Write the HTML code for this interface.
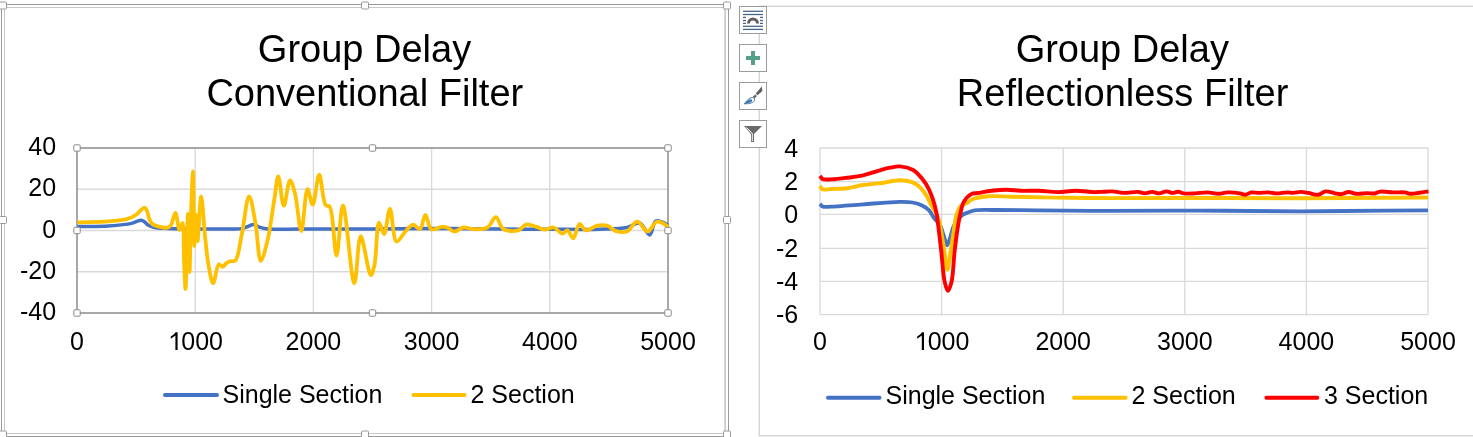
<!DOCTYPE html>
<html><head><meta charset="utf-8"><style>
html,body{margin:0;padding:0;background:#fff;width:1473px;height:437px;overflow:hidden}
svg{position:absolute;left:0;top:0;font-family:"Liberation Sans", sans-serif;will-change:transform}
</style></head><body>
<svg width="1473" height="437" viewBox="0 0 1473 437">
<rect x="1.5" y="4.5" width="727" height="432" fill="none" stroke="#9a9a9a" stroke-width="1"/>
<rect x="4.5" y="7.5" width="721" height="426" fill="none" stroke="#c8c8c8" stroke-width="1"/>
<line x1="724.6" y1="8" x2="724.6" y2="433" stroke="#d6d6d6" stroke-width="1"/>
<rect x="-0.50" y="2.00" width="7.00" height="7.00" rx="1" fill="#fff" stroke="#9a9a9a" stroke-width="1"/>
<rect x="361.50" y="2.00" width="7.00" height="7.00" rx="1" fill="#fff" stroke="#9a9a9a" stroke-width="1"/>
<rect x="723.50" y="2.00" width="7.00" height="7.00" rx="1" fill="#fff" stroke="#9a9a9a" stroke-width="1"/>
<rect x="-0.50" y="216.50" width="7.00" height="7.00" rx="1" fill="#fff" stroke="#9a9a9a" stroke-width="1"/>
<rect x="723.50" y="216.50" width="7.00" height="7.00" rx="1" fill="#fff" stroke="#9a9a9a" stroke-width="1"/>
<rect x="-0.50" y="431.00" width="7.00" height="7.00" rx="1" fill="#fff" stroke="#9a9a9a" stroke-width="1"/>
<rect x="361.50" y="431.00" width="7.00" height="7.00" rx="1" fill="#fff" stroke="#9a9a9a" stroke-width="1"/>
<rect x="723.50" y="431.00" width="7.00" height="7.00" rx="1" fill="#fff" stroke="#9a9a9a" stroke-width="1"/>
<text x="364.5" y="61.5" font-size="38" text-anchor="middle" fill="#000">Group Delay</text>
<text x="364.8" y="106.1" font-size="38" text-anchor="middle" fill="#000">Conventional Filter</text>
<line x1="77" y1="189.25" x2="668" y2="189.25" stroke="#d9d9d9" stroke-width="1.3"/>
<line x1="77" y1="230.50" x2="668" y2="230.50" stroke="#d9d9d9" stroke-width="1.3"/>
<line x1="77" y1="271.75" x2="668" y2="271.75" stroke="#d9d9d9" stroke-width="1.3"/>
<line x1="195.20" y1="148" x2="195.20" y2="313" stroke="#d9d9d9" stroke-width="1.3"/>
<line x1="313.40" y1="148" x2="313.40" y2="313" stroke="#d9d9d9" stroke-width="1.3"/>
<line x1="431.60" y1="148" x2="431.60" y2="313" stroke="#d9d9d9" stroke-width="1.3"/>
<line x1="549.80" y1="148" x2="549.80" y2="313" stroke="#d9d9d9" stroke-width="1.3"/>
<rect x="77" y="148" width="591" height="165" fill="none" stroke="#999" stroke-width="1.7"/>
<text x="56.1" y="155.1" font-size="25" text-anchor="end" fill="#000">40</text>
<text x="56.1" y="196.3" font-size="25" text-anchor="end" fill="#000">20</text>
<text x="56.1" y="237.6" font-size="25" text-anchor="end" fill="#000">0</text>
<text x="56.1" y="278.9" font-size="25" text-anchor="end" fill="#000">-20</text>
<text x="56.1" y="320.1" font-size="25" text-anchor="end" fill="#000">-40</text>
<text x="77.0" y="350" font-size="25" text-anchor="middle" fill="#000">0</text>
<path d="M177.60,332.30 L177.60,350.00 L175.40,350.00 L175.40,335.60 L170.80,338.80 L170.80,336.60 L174.00,334.30 L175.60,332.30 Z" fill="#000"/>
<text x="223.0" y="350" font-size="25" text-anchor="end" fill="#000">000</text>
<text x="313.4" y="350" font-size="25" text-anchor="middle" fill="#000">2000</text>
<text x="431.6" y="350" font-size="25" text-anchor="middle" fill="#000">3000</text>
<text x="549.8" y="350" font-size="25" text-anchor="middle" fill="#000">4000</text>
<text x="668.0" y="350" font-size="25" text-anchor="middle" fill="#000">5000</text>
<svg x="0" y="0" width="1473" height="437" overflow="hidden">
<path d="M77.50,226.60 C87.87,226.37 99.04,226.53 108.60,225.90 C116.83,225.36 126.53,224.60 131.50,223.40 C134.01,222.79 135.29,221.85 137.00,221.30 C138.45,220.83 139.82,220.09 141.10,220.20 C142.31,220.31 143.41,221.07 144.50,221.80 C145.72,222.62 146.56,224.10 148.00,225.00 C149.74,226.08 151.81,226.92 154.40,227.50 C158.08,228.32 162.65,228.17 168.20,228.40 C176.62,228.75 189.55,228.90 200.00,229.00 C210.15,229.10 222.25,229.13 230.00,229.00 C234.90,228.92 238.72,229.21 242.00,228.60 C244.38,228.15 246.05,227.20 248.00,226.50 C249.88,225.83 251.68,224.43 253.50,224.50 C255.35,224.57 257.02,226.30 259.00,227.00 C261.16,227.76 262.75,228.38 266.00,228.80 C273.04,229.71 287.58,228.96 300.00,229.00 C315.06,229.04 333.33,229.03 350.00,229.00 C366.67,228.97 383.33,228.88 400.00,228.80 C416.67,228.72 433.33,228.47 450.00,228.50 C466.67,228.53 483.33,228.88 500.00,229.00 C516.67,229.12 533.33,229.17 550.00,229.20 C566.67,229.23 585.90,229.65 600.00,229.20 C610.35,228.87 619.70,228.98 626.90,227.50 C631.98,226.45 635.80,222.03 639.50,223.00 C643.52,224.06 647.12,235.33 649.80,234.90 C652.41,234.48 652.78,222.78 655.50,221.20 C657.31,220.15 659.93,221.35 662.00,222.00 C664.10,222.67 666.00,224.13 668.00,225.20" fill="none" stroke="#4472c4" stroke-width="3.5" stroke-linejoin="round" stroke-linecap="butt"/>
<path d="M77.50,222.30 C87.87,221.97 99.60,222.01 108.60,221.30 C115.55,220.76 122.03,220.45 127.00,219.00 C130.66,217.94 133.64,216.39 136.10,214.70 C138.12,213.31 139.44,211.25 141.00,210.00 C142.25,209.00 143.58,207.40 144.60,207.60 C145.66,207.81 146.47,209.92 147.20,211.50 C148.13,213.54 148.40,216.82 149.30,219.00 C150.06,220.83 150.60,222.57 152.00,223.80 C153.64,225.24 156.46,225.98 159.00,226.60 C161.81,227.29 166.11,228.18 168.20,227.50 C169.53,227.07 170.12,226.30 171.00,225.00 C172.63,222.60 174.07,212.92 175.40,213.00 C176.95,213.09 178.04,229.88 179.50,230.00 C180.46,230.08 181.74,222.86 182.50,223.00 C184.17,223.31 183.47,248.42 184.00,260.00 C184.47,270.26 185.05,289.00 185.50,289.00 C186.08,288.99 186.52,253.77 187.00,240.00 C187.35,229.97 187.67,214.00 188.00,214.00 C188.50,214.00 189.00,272.00 189.50,272.00 C190.00,272.00 190.35,231.83 191.00,214.00 C191.56,198.73 192.48,171.49 193.00,171.50 C193.69,171.51 193.69,245.99 194.30,246.00 C194.64,246.01 194.96,227.60 195.50,222.00 C195.79,218.96 196.22,214.99 196.50,215.00 C197.05,215.03 197.00,240.99 197.60,241.00 C198.39,241.02 199.93,196.51 201.20,196.50 C202.40,196.49 203.68,223.86 205.00,236.00 C206.13,246.42 206.92,256.50 208.50,265.00 C209.77,271.82 211.39,283.16 213.10,283.20 C214.85,283.24 216.50,265.14 218.90,264.30 C220.06,263.89 221.49,267.02 222.70,266.90 C224.00,266.77 225.07,264.05 226.40,263.10 C227.59,262.25 228.81,261.72 230.20,261.30 C231.74,260.84 233.84,261.91 235.30,260.60 C238.59,257.65 239.54,244.75 241.60,235.40 C244.16,223.82 246.58,196.36 249.10,196.30 C251.19,196.25 253.57,213.13 255.40,222.80 C257.58,234.28 258.32,260.58 260.80,260.80 C262.68,260.96 265.60,248.19 267.60,240.00 C270.37,228.70 272.42,210.53 274.40,198.90 C275.86,190.31 276.86,176.51 278.30,176.50 C279.95,176.49 281.77,205.65 283.80,205.70 C285.70,205.75 287.82,180.54 290.00,180.40 C291.57,180.30 293.40,187.57 294.90,193.00 C297.43,202.16 299.24,231.02 301.30,231.00 C303.45,230.98 304.99,189.42 307.50,189.20 C309.06,189.06 311.03,204.79 312.70,204.70 C314.99,204.57 317.04,174.60 319.20,174.60 C321.38,174.60 322.47,201.84 325.70,205.30 C326.86,206.54 328.44,205.07 329.60,206.40 C333.65,211.04 334.29,255.61 336.50,255.60 C338.73,255.59 340.36,205.32 342.90,205.30 C346.07,205.27 351.09,283.12 354.30,283.10 C356.79,283.09 357.78,236.37 360.70,236.20 C363.39,236.04 368.08,274.97 370.80,275.10 C372.21,275.17 373.43,269.61 374.50,265.00 C376.63,255.83 376.43,223.11 379.00,222.70 C380.39,222.48 382.55,234.15 384.10,234.00 C386.34,233.78 387.95,208.88 389.90,208.90 C392.11,208.93 392.89,240.52 396.60,241.50 C398.94,242.12 402.49,234.45 405.40,231.50 C407.95,228.91 410.45,224.79 413.00,224.60 C415.29,224.43 418.00,229.80 419.90,229.20 C422.48,228.38 423.50,214.92 425.40,214.90 C427.30,214.88 428.13,227.55 431.30,229.20 C433.92,230.56 438.66,227.07 441.60,226.90 C443.77,226.78 445.38,226.87 447.30,227.50 C449.57,228.24 451.70,231.36 454.20,231.50 C456.99,231.66 460.11,227.90 463.30,227.50 C466.57,227.09 469.91,229.12 473.60,229.20 C477.86,229.29 483.66,229.55 487.40,227.50 C491.06,225.49 493.27,217.03 495.90,217.20 C498.61,217.38 499.76,227.00 503.40,229.20 C507.13,231.45 514.18,231.42 518.20,230.30 C521.47,229.39 523.22,225.20 526.20,224.60 C529.29,223.97 533.25,226.00 536.50,226.90 C539.49,227.72 542.14,229.60 545.00,229.70 C547.87,229.80 550.93,226.97 553.70,227.50 C556.72,228.08 559.77,233.64 562.30,233.70 C564.23,233.74 565.87,229.99 567.50,230.30 C569.56,230.69 571.40,238.48 573.20,238.30 C575.47,238.07 577.01,224.47 579.50,224.00 C581.38,223.65 583.18,229.77 585.80,230.30 C588.88,230.93 593.43,226.43 597.20,225.70 C600.65,225.03 604.40,224.78 607.50,225.70 C610.48,226.58 612.45,229.91 615.50,230.90 C618.84,231.99 623.44,232.78 626.90,231.50 C630.76,230.07 633.77,221.70 637.20,221.70 C640.63,221.70 644.21,231.59 647.50,231.50 C650.70,231.41 653.74,222.63 656.70,221.70 C658.65,221.09 660.59,222.09 662.40,222.90 C664.37,223.78 666.13,225.63 668.00,227.00" fill="none" stroke="#ffc000" stroke-width="3.8" stroke-linejoin="round" stroke-linecap="butt"/>
</svg>
<rect x="73.80" y="144.80" width="6.40" height="6.40" rx="1" fill="#fff" stroke="#8c8c8c" stroke-width="1"/>
<rect x="369.30" y="144.80" width="6.40" height="6.40" rx="1" fill="#fff" stroke="#8c8c8c" stroke-width="1"/>
<rect x="664.80" y="144.80" width="6.40" height="6.40" rx="1" fill="#fff" stroke="#8c8c8c" stroke-width="1"/>
<rect x="73.80" y="227.30" width="6.40" height="6.40" rx="1" fill="#fff" stroke="#8c8c8c" stroke-width="1"/>
<rect x="664.80" y="227.30" width="6.40" height="6.40" rx="1" fill="#fff" stroke="#8c8c8c" stroke-width="1"/>
<rect x="73.80" y="309.80" width="6.40" height="6.40" rx="1" fill="#fff" stroke="#8c8c8c" stroke-width="1"/>
<rect x="369.30" y="309.80" width="6.40" height="6.40" rx="1" fill="#fff" stroke="#8c8c8c" stroke-width="1"/>
<rect x="664.80" y="309.80" width="6.40" height="6.40" rx="1" fill="#fff" stroke="#8c8c8c" stroke-width="1"/>
<line x1="165" y1="395" x2="217" y2="395" stroke="#4472c4" stroke-width="4" stroke-linecap="round"/>
<text x="222.5" y="402.5" font-size="25" text-anchor="start" fill="#000">Single Section</text>
<line x1="413.5" y1="395" x2="464.5" y2="395" stroke="#ffc000" stroke-width="4" stroke-linecap="round"/>
<text x="470.5" y="402.5" font-size="25" text-anchor="start" fill="#000">2 Section</text>
<rect x="759.3" y="6.3" width="730" height="429.4" fill="none" stroke="#d6d6d6" stroke-width="1.5"/>
<text x="1122.3" y="61.5" font-size="38" text-anchor="middle" fill="#000">Group Delay</text>
<text x="1122.6" y="106.1" font-size="38" text-anchor="middle" fill="#000">Reflectionless Filter</text>
<line x1="820" y1="148.00" x2="1428" y2="148.00" stroke="#d9d9d9" stroke-width="1.3"/>
<line x1="820" y1="181.70" x2="1428" y2="181.70" stroke="#d9d9d9" stroke-width="1.3"/>
<line x1="820" y1="214.40" x2="1428" y2="214.40" stroke="#d9d9d9" stroke-width="1.3"/>
<line x1="820" y1="248.40" x2="1428" y2="248.40" stroke="#d9d9d9" stroke-width="1.3"/>
<line x1="820" y1="281.40" x2="1428" y2="281.40" stroke="#d9d9d9" stroke-width="1.3"/>
<line x1="820" y1="314.60" x2="1428" y2="314.60" stroke="#d9d9d9" stroke-width="1.3"/>
<line x1="820.00" y1="148" x2="820.00" y2="314.5" stroke="#d9d9d9" stroke-width="1.3"/>
<line x1="941.60" y1="148" x2="941.60" y2="314.5" stroke="#d9d9d9" stroke-width="1.3"/>
<line x1="1063.20" y1="148" x2="1063.20" y2="314.5" stroke="#d9d9d9" stroke-width="1.3"/>
<line x1="1184.80" y1="148" x2="1184.80" y2="314.5" stroke="#d9d9d9" stroke-width="1.3"/>
<line x1="1306.40" y1="148" x2="1306.40" y2="314.5" stroke="#d9d9d9" stroke-width="1.3"/>
<line x1="1428.00" y1="148" x2="1428.00" y2="314.5" stroke="#d9d9d9" stroke-width="1.3"/>
<text x="798.2" y="157" font-size="25" text-anchor="end" fill="#000">4</text>
<text x="798.2" y="190" font-size="25" text-anchor="end" fill="#000">2</text>
<text x="798.2" y="223" font-size="25" text-anchor="end" fill="#000">0</text>
<text x="798.2" y="257" font-size="25" text-anchor="end" fill="#000">-2</text>
<text x="798.2" y="290" font-size="25" text-anchor="end" fill="#000">-4</text>
<text x="798.2" y="323" font-size="25" text-anchor="end" fill="#000">-6</text>
<text x="820.0" y="350" font-size="25" text-anchor="middle" fill="#000">0</text>
<path d="M924.00,332.30 L924.00,350.00 L921.80,350.00 L921.80,335.60 L917.20,338.80 L917.20,336.60 L920.40,334.30 L922.00,332.30 Z" fill="#000"/>
<text x="969.4" y="350" font-size="25" text-anchor="end" fill="#000">000</text>
<text x="1063.2" y="350" font-size="25" text-anchor="middle" fill="#000">2000</text>
<text x="1184.8" y="350" font-size="25" text-anchor="middle" fill="#000">3000</text>
<text x="1306.4" y="350" font-size="25" text-anchor="middle" fill="#000">4000</text>
<text x="1428.0" y="350" font-size="25" text-anchor="middle" fill="#000">5000</text>
<g transform="translate(0,0.4)">
<path d="M820.00,203.50 C820.83,204.37 821.27,205.56 822.50,206.10 C824.39,206.93 827.26,206.40 831.00,206.30 C838.26,206.11 851.94,204.67 863.00,203.90 C874.88,203.07 890.91,201.58 900.00,201.50 C905.30,201.45 908.69,201.39 912.60,202.10 C916.17,202.74 919.74,203.88 922.60,205.30 C925.05,206.51 927.07,207.81 928.90,209.70 C930.90,211.76 932.37,215.36 933.90,217.40 C935.00,218.87 935.96,219.72 937.00,221.00 C938.13,222.40 939.38,223.59 940.40,225.50 C941.83,228.19 942.83,232.64 944.00,236.00 C945.09,239.12 946.12,244.99 947.20,245.00 C948.28,245.01 949.42,239.16 950.50,236.00 C951.69,232.53 952.17,228.42 954.00,225.00 C955.93,221.40 959.49,217.06 962.00,215.00 C963.60,213.69 964.82,213.35 966.60,212.60 C968.87,211.65 971.33,210.55 974.60,210.00 C979.48,209.17 985.70,209.65 993.30,209.60 C1005.19,209.52 1022.37,209.86 1039.00,210.00 C1058.98,210.16 1081.00,210.45 1105.00,210.50 C1133.79,210.56 1167.93,210.14 1200.00,210.20 C1232.91,210.26 1264.61,210.91 1300.00,210.90 C1340.04,210.88 1385.33,210.23 1428.00,209.90" fill="none" stroke="#4472c4" stroke-width="3.8" stroke-linejoin="round" stroke-linecap="butt"/>
<path d="M820.00,185.50 C820.83,186.63 821.19,188.26 822.50,188.90 C824.37,189.80 827.72,188.74 831.00,188.60 C835.50,188.41 841.69,188.46 847.00,187.80 C852.36,187.13 857.65,185.40 863.00,184.60 C868.31,183.80 873.31,183.70 879.00,183.00 C885.53,182.19 893.89,179.84 900.00,179.90 C904.74,179.94 909.07,180.60 912.60,182.00 C915.57,183.17 917.86,184.91 920.10,187.00 C922.50,189.24 924.60,192.33 926.40,195.20 C928.15,198.00 929.30,201.26 930.80,204.00 C932.17,206.49 933.69,208.48 935.00,211.00 C936.44,213.77 937.91,216.50 939.00,220.00 C940.40,224.50 941.09,230.84 942.00,236.00 C942.85,240.82 943.48,244.95 944.30,250.00 C945.26,255.96 946.32,269.49 947.40,269.50 C948.48,269.51 949.77,256.38 950.80,250.00 C951.79,243.89 952.55,237.91 953.50,232.00 C954.42,226.25 954.88,219.76 956.40,215.00 C957.59,211.28 958.95,207.51 961.00,205.50 C962.57,203.96 964.77,203.96 966.60,202.90 C968.54,201.78 969.76,199.96 972.30,198.90 C976.23,197.25 982.75,196.39 988.70,195.90 C995.67,195.33 1002.66,196.13 1011.60,196.30 C1024.25,196.53 1041.99,196.97 1057.40,197.20 C1073.11,197.44 1086.42,197.61 1105.00,197.70 C1131.25,197.82 1167.93,197.58 1200.00,197.60 C1232.91,197.62 1264.61,197.86 1300.00,197.80 C1340.04,197.73 1385.33,197.33 1428.00,197.10" fill="none" stroke="#ffc000" stroke-width="3.9" stroke-linejoin="round" stroke-linecap="butt"/>
<path d="M820.00,175.50 C820.83,176.53 821.22,177.95 822.50,178.60 C824.37,179.55 827.73,179.09 831.00,179.00 C835.50,178.88 841.67,178.07 847.00,177.40 C852.34,176.73 857.71,176.18 863.00,175.00 C868.38,173.80 874.15,171.57 879.00,170.20 C883.00,169.07 886.40,168.01 890.00,167.30 C893.39,166.64 896.50,165.76 900.00,166.00 C903.98,166.27 908.87,167.31 912.60,169.40 C916.43,171.55 919.82,175.51 922.60,178.90 C925.17,182.04 927.13,185.37 928.90,188.90 C930.70,192.49 932.04,196.37 933.30,200.30 C934.59,204.33 935.62,208.27 936.50,212.80 C937.52,218.05 938.04,224.05 938.80,230.00 C939.61,236.41 940.34,242.57 941.20,250.00 C942.28,259.33 943.02,274.36 944.70,281.60 C945.61,285.55 946.77,290.48 947.90,290.50 C949.04,290.52 950.53,285.52 951.50,281.60 C953.21,274.70 953.49,260.90 954.50,252.00 C955.33,244.68 956.04,238.38 957.00,232.00 C957.89,226.09 958.80,220.29 960.00,215.00 C961.07,210.27 961.64,205.37 963.70,201.70 C965.54,198.43 968.50,195.14 971.20,193.70 C973.34,192.56 975.35,193.03 978.00,192.60 C981.74,191.99 986.83,190.93 991.50,190.40 C996.48,189.84 1001.98,189.38 1007.00,189.40 C1011.73,189.42 1015.87,190.22 1020.80,190.40 C1026.47,190.61 1033.00,190.18 1039.10,190.40 C1045.20,190.62 1051.30,191.70 1057.40,191.70 C1063.50,191.70 1069.60,190.40 1075.70,190.40 C1081.80,190.40 1089.56,191.62 1094.00,191.70 C1096.54,191.75 1097.64,191.59 1100.00,191.50 C1103.39,191.38 1108.36,190.82 1112.40,191.00 C1116.29,191.18 1119.79,192.38 1123.80,192.50 C1128.27,192.64 1134.16,191.21 1138.00,191.50 C1140.67,191.70 1142.39,192.97 1144.70,193.00 C1147.15,193.03 1149.86,191.47 1152.30,191.50 C1154.58,191.53 1156.63,193.04 1158.90,193.00 C1161.35,192.96 1164.15,191.00 1166.50,191.00 C1168.54,191.00 1170.29,192.45 1172.20,192.50 C1174.12,192.55 1176.09,191.22 1178.00,191.30 C1179.92,191.38 1181.45,192.67 1183.70,193.00 C1186.80,193.45 1191.15,193.16 1195.00,193.00 C1199.04,192.84 1203.36,191.92 1207.40,192.00 C1211.28,192.08 1215.27,193.47 1218.80,193.40 C1221.87,193.34 1224.25,192.13 1227.40,192.00 C1231.19,191.84 1236.73,192.44 1240.00,193.00 C1242.13,193.37 1243.41,194.50 1245.20,194.40 C1247.19,194.29 1249.19,192.34 1251.40,192.00 C1253.77,191.64 1256.32,192.48 1259.00,192.50 C1261.99,192.52 1265.51,191.88 1268.50,192.00 C1271.18,192.10 1273.31,192.94 1276.10,193.00 C1279.51,193.07 1284.35,192.00 1287.50,192.00 C1289.73,192.00 1291.17,192.54 1293.20,192.50 C1295.55,192.45 1298.27,191.50 1300.80,191.50 C1303.33,191.50 1305.73,192.06 1308.40,192.50 C1311.42,193.00 1315.04,194.74 1318.00,194.40 C1320.73,194.09 1322.88,191.30 1325.60,191.00 C1328.52,190.68 1332.19,192.41 1335.00,192.90 C1337.27,193.29 1339.06,193.96 1341.20,193.80 C1343.58,193.63 1346.12,191.67 1348.60,191.60 C1351.08,191.53 1353.33,193.16 1356.10,193.40 C1359.44,193.69 1363.94,192.72 1367.30,192.70 C1370.05,192.69 1372.56,193.44 1374.80,193.10 C1376.72,192.81 1377.82,191.52 1380.00,191.20 C1383.41,190.70 1389.21,191.87 1393.50,192.00 C1397.41,192.12 1401.56,191.64 1404.70,192.00 C1407.03,192.27 1408.49,193.28 1410.70,193.40 C1413.36,193.54 1416.64,192.70 1419.60,192.30 C1422.57,191.90 1425.53,191.43 1428.50,191.00" fill="none" stroke="#ff0000" stroke-width="3.9" stroke-linejoin="round" stroke-linecap="butt"/>
</g>
<line x1="828" y1="397.8" x2="879.5" y2="397.8" stroke="#4472c4" stroke-width="4" stroke-linecap="round"/>
<text x="885.5" y="404.4" font-size="25" text-anchor="start" fill="#000">Single Section</text>
<line x1="1074" y1="397.8" x2="1125.6" y2="397.8" stroke="#ffc000" stroke-width="4" stroke-linecap="round"/>
<text x="1131.5" y="404.4" font-size="25" text-anchor="start" fill="#000">2 Section</text>
<line x1="1266.4" y1="397.8" x2="1317.3" y2="397.8" stroke="#ff0000" stroke-width="4" stroke-linecap="round"/>
<text x="1324" y="404.4" font-size="25" text-anchor="start" fill="#000">3 Section</text>
<rect x="739.5" y="6.5" width="27" height="27" fill="#fff" stroke="#9b9b9b" stroke-width="1"/>
<line x1="743" y1="11.3" x2="763" y2="11.3" stroke="#466689" stroke-width="1.3"/>
<line x1="743" y1="14.5" x2="763" y2="14.5" stroke="#466689" stroke-width="1.3"/>
<line x1="743" y1="26.3" x2="763" y2="26.3" stroke="#466689" stroke-width="1.3"/>
<line x1="743" y1="29.4" x2="763" y2="29.4" stroke="#466689" stroke-width="1.3"/>
<line x1="743" y1="17.4" x2="746" y2="17.4" stroke="#466689" stroke-width="1.3"/>
<line x1="760" y1="17.4" x2="763" y2="17.4" stroke="#466689" stroke-width="1.3"/>
<line x1="743" y1="20.5" x2="746" y2="20.5" stroke="#466689" stroke-width="1.3"/>
<line x1="760" y1="20.5" x2="763" y2="20.5" stroke="#466689" stroke-width="1.3"/>
<line x1="743" y1="23.4" x2="746" y2="23.4" stroke="#466689" stroke-width="1.3"/>
<line x1="760" y1="23.4" x2="763" y2="23.4" stroke="#466689" stroke-width="1.3"/>
<path d="M748.5,23.6 A4.5,4.5 0 0 1 757.5,23.6" fill="none" stroke="#5f5f5f" stroke-width="3"/>
<rect x="739.5" y="44.5" width="27" height="27" fill="#fff" stroke="#9b9b9b" stroke-width="1"/>
<path d="M746,56 H751 V51 H755 V56 H760 V60 H755 V65 H751 V60 H746 Z" fill="#55a085"/>
<rect x="739.5" y="82.5" width="27" height="27" fill="#fff" stroke="#9b9b9b" stroke-width="1"/>
<path d="M761.8,86.6 L762.4,91 L757.6,95.2 L755.7,93.5 Z" fill="#606060"/>
<path d="M755.3,94.4 L756.9,96 L754.3,98.4 L752.7,96.8 Z" fill="#646464"/>
<path d="M744.2,103.9 C746.3,101.6 748,98.6 751,97.7 C753.2,97 755,98.4 754.6,100.1 C754.2,102 751.6,103.3 748.6,103.6 Z" fill="#fff" stroke="#4f6f90" stroke-width="0.9"/>
<path d="M744.2,103.9 C746.3,101.7 747.8,99.8 750.4,99.3 C752,99 752.8,100.4 751.8,101.6 C750.4,103 747.6,103.5 744.2,103.9 Z" fill="#3b79b6"/>
<rect x="739.5" y="120.5" width="27" height="27" fill="#fff" stroke="#9b9b9b" stroke-width="1"/>
<path d="M744,126 H762 L754,134 V142 H751 V134 Z" fill="#6a6a6a"/>
<path d="M746.5,127.5 L752.3,133.5 V141" fill="none" stroke="#fff" stroke-width="1"/>
</svg>
</body></html>
